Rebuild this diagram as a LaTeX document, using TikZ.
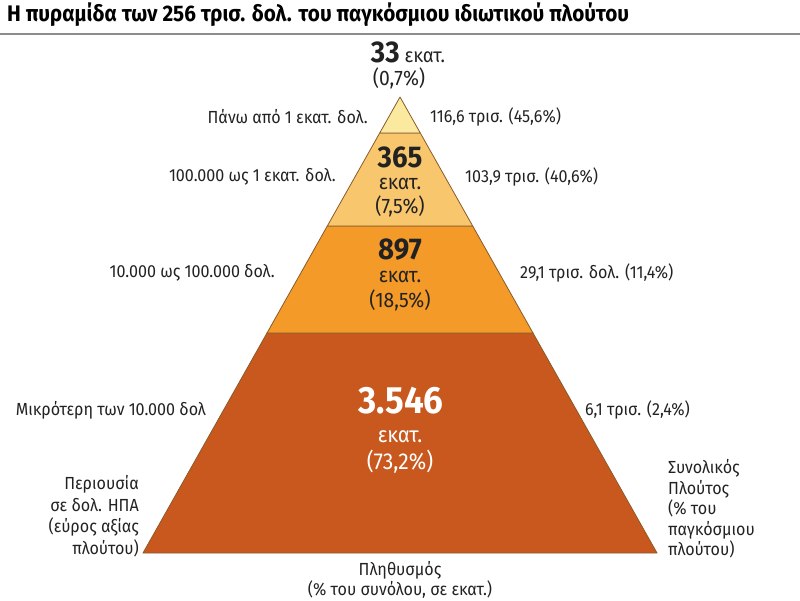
\documentclass[tikz,border=0pt]{standalone}
\usepackage{fontspec}
\setmainfont{Fira Sans}[FakeStretch=0.92]
\definecolor{bandA}{HTML}{FBE9A0}
\definecolor{bandB}{HTML}{F8C66C}
\definecolor{bandC}{HTML}{F39A28}
\definecolor{bandD}{HTML}{C8581E}
\definecolor{edgeC}{HTML}{8A5A2A}
\definecolor{txt}{HTML}{222222}
\begin{document}
\begin{tikzpicture}[x=1pt,y=-1pt,
  lab/.style={inner sep=0pt,text=txt,font=\fontsize{17.5}{20}\selectfont},
  big/.style={inner sep=0pt,text=txt,font=\fontsize{30}{30}\bfseries\selectfont},
  mid/.style={inner sep=0pt,text=txt,font=\fontsize{21}{22}\selectfont},
  band/.style={draw=edgeC,line width=0.8pt,line join=round}]
\useasboundingbox (0,0) rectangle (800,600);
% title
\node[inner sep=0pt,anchor=base west,text=black,font=\fontsize{22.5}{24}\bfseries\selectfont] (title) at (7,21) {Η πυραμίδα των 256 τρισ. δολ. του παγκόσμιου ιδιωτικού πλούτου};
\draw[line width=1.5pt,color=black!45] (0,34) -- (800,34);
% pyramid
\coordinate (apex) at (400,97);
\fill[bandD,band] (267,333) -- (533,333) -- (657,553) -- (143,553) -- cycle;
\fill[bandC,band] (327.3,226) -- (472.7,226) -- (533,333) -- (267,333) -- cycle;
\fill[bandB,band] (379.7,133) -- (420.3,133) -- (472.7,226) -- (327.3,226) -- cycle;
\fill[bandA,band] (apex) -- (420.3,133) -- (379.7,133) -- cycle;
% top
\node[inner sep=0pt,text=txt] (t33) at (408,52) {\fontsize{30}{30}\bfseries\selectfont 33\,\fontsize{20}{20}\mdseries\selectfont εκατ.};
\node[mid] (t07) at (399,78) {(0,7\%)};
\node[lab,anchor=east] (l1) at (368,117) {Πάνω από 1 εκατ. δολ.};
\node[lab,anchor=west] (r1) at (430,117) {116,6 τρισ. (45,6\%)};
% band B
\node[big] (n365) at (400,157) {365};
\node[mid] (e365) at (400,184) {εκατ.};
\node[mid] (p365) at (400,206) {(7,5\%)};
\node[lab,anchor=east] (l2) at (336,177) {100.000 ως 1 εκατ. δολ.};
\node[lab,anchor=west] (r2) at (465,177) {103,9 τρισ. (40,6\%)};
% band C
\node[big] (n897) at (400,250) {897};
\node[mid] (e897) at (400,277) {εκατ.};
\node[mid] (p897) at (400,300) {(18,5\%)};
\node[lab,anchor=east] (l3) at (275,273) {10.000 ως 100.000 δολ.};
\node[lab,anchor=west] (r3) at (520,273) {29,1 τρισ. δολ. (11,4\%)};
% band D
\node[inner sep=0pt,text=white,font=\fontsize{38}{38}\bfseries\selectfont] (n3546) at (401,401) {3.546};
\node[mid,text=white,font=\fontsize{22}{22}\selectfont] (e3546) at (400,437) {εκατ.};
\node[mid,text=white,font=\fontsize{23}{23}\selectfont] (p3546) at (400,462) {(73,2\%)};
\node[lab,anchor=east] (l4) at (206,410) {Μικρότερη των 10.000 δολ};
\node[lab,anchor=west] (r4) at (585,410) {6,1 τρισ. (2,4\%)};
% axis labels
\node[lab,anchor=east,align=right,font=\fontsize{17.5}{21.5}\selectfont] (lax) at (139,516) {Περιουσία\\σε δολ. ΗΠΑ\\(εύρος αξίας\\πλούτου)};
\node[lab,anchor=west,align=left,font=\fontsize{17.5}{20.5}\selectfont] (rax) at (668,509) {Συνολικός\\Πλούτος\\(\% του\\παγκόσμιου\\πλούτου)};
\node[lab,align=center,font=\fontsize{17.5}{20}\selectfont] (bax) at (400,580) {Πληθυσμός\\(\% του συνόλου, σε εκατ.)};
\end{tikzpicture}
\end{document}
